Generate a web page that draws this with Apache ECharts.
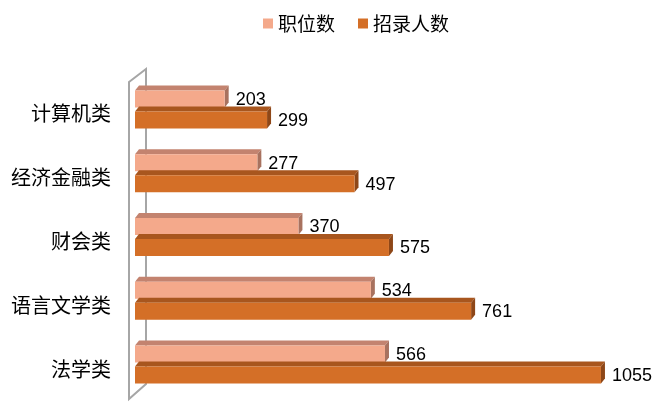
<!DOCTYPE html>
<html>
<head>
<meta charset="utf-8">
<script src="https://cdn.jsdelivr.net/npm/echarts@6/dist/echarts.min.js"></script>
<style>
  html, body { margin: 0; padding: 0; background: #fff; }
  #main { width: 672px; height: 405px; }
</style>
</head>
<body>
<div id="main"></div>
<script>
// 数据
const categories = ['计算机类', '经济金融类', '财会类', '语言文学类', '法学类']
const jobCounts = [203, 277, 370, 534, 566]
const hireCounts = [299, 497, 575, 761, 1055]
const seriesNames = ['职位数', '招录人数']

const font = "'Noto Sans CJK SC', 'Liberation Sans', sans-serif"

// 立体柱子
function bar3d(front, top, side, shift) {
  return function (params, api) {
    const val = api.value(0)
    const p0 = api.coord([0, api.value(1)])
    const p1 = api.coord([val, api.value(1)])
    const h = 17, d = 5, dx = 4
    const x0 = p0[0], x1 = p1[0]
    const y = p0[1] + shift - h / 2
    return {
      type: 'group',
      children: [
        { type: 'polygon', shape: { points: [[x0, y], [x0 + dx, y - d], [x1 + dx, y - d], [x1, y]] }, style: { fill: top } },
        { type: 'polygon', shape: { points: [[x1, y], [x1 + dx, y - d], [x1 + dx, y + h - d], [x1, y + h]] }, style: { fill: side } },
        { type: 'rect', shape: { x: x0, y: y, width: x1 - x0, height: h }, style: { fill: front } },
        {
          type: 'text',
          style: {
            text: String(val), x: x1 + dx + 7, y: y + h / 2 + 1,
            verticalAlign: 'middle', fill: '#000',
            font: "18px 'Liberation Sans', sans-serif"
          }
        }
      ]
    }
  }
}

const chart = echarts.init(document.getElementById('main'))
const option = {
  animation: false,
  legend: {
    top: 9,
    left: 258,
    itemWidth: 10,
    itemHeight: 10,
    itemGap: 23,
    icon: 'rect',
    textStyle: { fontFamily: font, fontSize: 19, color: '#000' },
    data: seriesNames
  },
  grid: { left: 135, top: 82, height: 319, right: 7 },
  xAxis: {
    type: 'value', min: 0, max: 1200, show: false
  },
  yAxis: {
    type: 'category',
    data: categories,
    inverse: true,
    axisLine: { show: false },
    axisTick: { show: false },
    axisLabel: { margin: 24, fontFamily: font, fontSize: 20, color: '#000' }
  },
  series: [
    {
      name: seriesNames[0], type: 'custom', itemStyle: { color: '#F4A98B' },
      renderItem: bar3d('#F4A98B', '#C3836F', '#A8725F', -15),
      encode: { x: 0, y: 1 },
      data: jobCounts.map((v, i) => [v, i]), z: 3
    },
    {
      name: seriesNames[1], type: 'custom', itemStyle: { color: '#D46F27' },
      renderItem: bar3d('#D46F27', '#A8561E', '#8E4718', 6),
      encode: { x: 0, y: 1 },
      data: hireCounts.map((v, i) => [v, i]), z: 4
    }
  ]
}
chart.setOption(option)

// 左侧的立体墙
const x0 = chart.convertToPixel({ xAxisIndex: 0 }, 0)
const yTop = option.grid.top
const yBot = option.grid.top + option.grid.height
chart.setOption({
  graphic: [{
    type: 'polygon', z: 0,
    shape: { points: [[x0 - 6, yTop], [x0 + 11, yTop - 13], [x0 + 11, yBot - 17], [x0 - 6, yBot - 2]] },
    style: { fill: 'none', stroke: '#A6A6A6', lineWidth: 2 }
  }]
})
</script>
</body>
</html>
